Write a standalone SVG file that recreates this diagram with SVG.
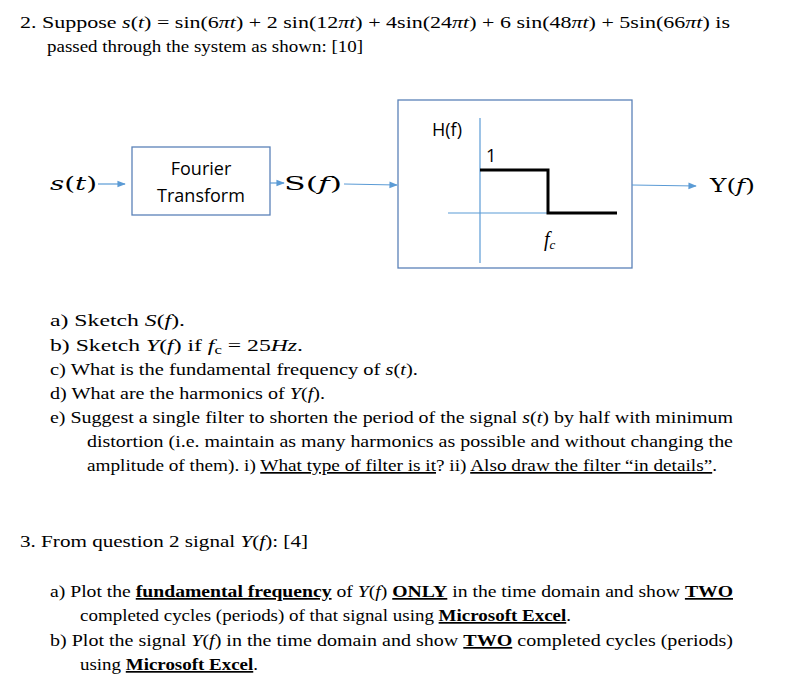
<svg xmlns="http://www.w3.org/2000/svg" width="796" height="686" viewBox="0 0 796 686" xml:space="preserve">
<style>
text{font-family:"Liberation Serif",serif;font-size:17px;fill:#000}
.s{font-family:"Open Sans","Liberation Sans",sans-serif;font-size:18px}
.m{font-family:"DejaVu Serif",serif;font-size:19px}
.i{font-style:italic}
.box{fill:none;stroke:#5b82b8;stroke-width:1.3}
.ln{stroke:#5b9bd5;stroke-width:1.2;fill:none}
.u{text-decoration:underline}
.b{font-weight:bold}
</style>
<defs><marker id="a" viewBox="0 0 10 10" refX="9" refY="5" markerWidth="7" markerHeight="7" orient="auto"><path d="M0,1L10,5L0,9z" fill="#5b9bd5"/></marker></defs>
<rect width="796" height="686" fill="#fff"/>
<text x="20" y="28" textLength="710" lengthAdjust="spacingAndGlyphs">2.  Suppose  <tspan class="i">s</tspan>(<tspan class="i">t</tspan>) = sin(6<tspan class="i">πt</tspan>) + 2 sin(12<tspan class="i">πt</tspan>) + 4sin(24<tspan class="i">πt</tspan>) + 6 sin(48<tspan class="i">πt</tspan>) + 5sin(66<tspan class="i">πt</tspan>)  is</text>
<text x="47" y="52" textLength="316" lengthAdjust="spacingAndGlyphs">passed through the system as shown: [10]</text>
<g id="st"><text class="m" x="50" y="190" textLength="47" lengthAdjust="spacingAndGlyphs"><tspan class="i">s</tspan>(<tspan class="i">t</tspan>)</text></g>
<g id="ft"><rect class="box" x="132" y="147" width="138" height="68"/><text class="s" x="201" y="175" text-anchor="middle">Fourier</text><text class="s" x="201" y="202" text-anchor="middle">Transform</text></g>
<g id="sf"><text class="m" x="284" y="190" textLength="58" lengthAdjust="spacingAndGlyphs">S(<tspan class="i">f</tspan>)</text></g>
<g id="h"><rect class="box" x="398" y="100" width="234" height="168"/>
<text class="s" x="432" y="136">H(f)</text>
<line class="ln" x1="480" y1="118" x2="480" y2="263"/><line class="ln" x1="448" y1="213" x2="548" y2="213"/>
<path d="M480,170H548V213H617" fill="none" stroke="#000" stroke-width="3"/>
<text class="s" x="486" y="162">1</text>
<text x="544" y="246" class="i" style="font-size:20px">f<tspan font-size="13" dy="3">c</tspan></text></g>
<g id="yf"><text class="m" x="710" y="192" textLength="45" lengthAdjust="spacingAndGlyphs">Y(<tspan class="i">f</tspan>)</text></g>
<g id="connectors">
<line class="ln" x1="98" y1="184" x2="125" y2="184" marker-end="url(#a)"/>
<line class="ln" x1="270" y1="183" x2="284" y2="183" marker-end="url(#a)"/>
<line class="ln" x1="344" y1="184" x2="397" y2="185" marker-end="url(#a)"/>
<line class="ln" x1="632" y1="185" x2="696" y2="186" marker-end="url(#a)"/>
</g>
<text x="50" y="326" textLength="135" lengthAdjust="spacingAndGlyphs">a)  Sketch  <tspan class="i">S</tspan>(<tspan class="i">f</tspan>).</text>
<text x="50" y="351" textLength="253" lengthAdjust="spacingAndGlyphs">b)  Sketch  <tspan class="i">Y</tspan>(<tspan class="i">f</tspan>)  if  <tspan class="i">f</tspan><tspan font-size="12" dy="3">c</tspan><tspan dy="-3"> = 25<tspan class="i">Hz</tspan>.</tspan></text>
<text x="50" y="375" textLength="368" lengthAdjust="spacingAndGlyphs">c)  What is the fundamental frequency of  <tspan class="i">s</tspan>(<tspan class="i">t</tspan>).</text>
<text x="50" y="399" textLength="275" lengthAdjust="spacingAndGlyphs">d)  What are the harmonics of  <tspan class="i">Y</tspan>(<tspan class="i">f</tspan>).</text>
<text x="50" y="423" textLength="683" lengthAdjust="spacingAndGlyphs">e)  Suggest a single filter to shorten the period of the signal  <tspan class="i">s</tspan>(<tspan class="i">t</tspan>)  by half with minimum</text>
<text x="87" y="447" textLength="646" lengthAdjust="spacingAndGlyphs">distortion (i.e. maintain as many harmonics as possible and without changing the</text>
<text x="87" y="471" textLength="630" lengthAdjust="spacingAndGlyphs">amplitude of them). i) <tspan class="u">What type of filter is it</tspan>? ii) <tspan class="u">Also draw the filter “in details”</tspan>.</text>
<text x="20" y="547" textLength="288" lengthAdjust="spacingAndGlyphs">3.  From question 2 signal  <tspan class="i">Y</tspan>(<tspan class="i">f</tspan>): [4]</text>
<text x="50" y="597" textLength="683" lengthAdjust="spacingAndGlyphs">a)  Plot the <tspan class="b u">fundamental frequency</tspan> of  <tspan class="i">Y</tspan>(<tspan class="i">f</tspan>)  <tspan class="b u">ONLY</tspan> in the time domain and show <tspan class="b u">TWO</tspan></text>
<text x="80" y="621" textLength="491" lengthAdjust="spacingAndGlyphs">completed cycles (periods) of that signal using <tspan class="b u">Microsoft Excel</tspan>.</text>
<text x="50" y="646" textLength="683" lengthAdjust="spacingAndGlyphs">b)  Plot the signal  <tspan class="i">Y</tspan>(<tspan class="i">f</tspan>)  in the time domain and show <tspan class="b u">TWO</tspan> completed cycles (periods)</text>
<text x="80" y="670" textLength="178" lengthAdjust="spacingAndGlyphs">using <tspan class="b u">Microsoft Excel</tspan>.</text>
</svg>
